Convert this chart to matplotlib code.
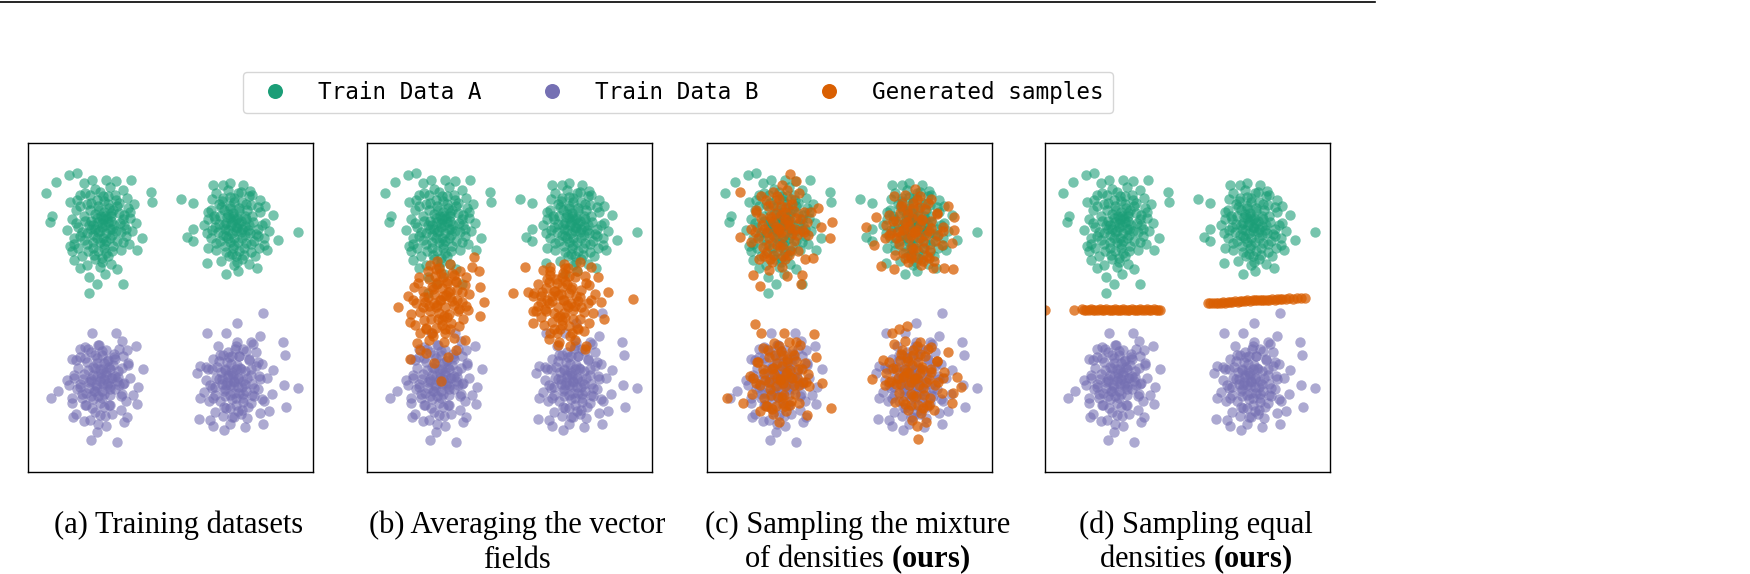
import matplotlib
matplotlib.use('Agg')
import matplotlib.pyplot as plt
from matplotlib.lines import Line2D
import numpy as np


green = '#1b9e77'
purple = '#7570b3'
orange = '#d95f02'

legend_labels = ['Train Data A', 'Train Data B', 'Generated samples']

captions = [
    ['(a) Training datasets'],
    ['(b) Averaging the vector', 'fields'],
    ['(c) Sampling the mixture', r'of densities $\mathbf{(ours)}$'],
    ['(d) Sampling equal', r'densities $\mathbf{(ours)}$'],
]

# train data A, upper left / upper right blob
train_a_left = [
    (-1.88, 1.44), (-1.72, 1.59), (-1.53, 1.68), (-1.40, 1.71), (-1.79, 1.14), (-1.82, 1.06),
    (-0.26, 1.46), (-0.24, 1.33), (-1.22, 0.14), (-1.10, 0.25), (-1.22, 0.34), (-0.79, 0.45),
    (-0.69, 0.26), (-0.97, 0.39), (-1.35, 0.46), (-0.40, 0.86), (-0.57, 1.61), (-1.35, 1.42),
    (-1.51, 1.33), (-1.56, 0.96), (-1.51, 0.75), (-1.45, 0.57),
    (-1.02, 1.05), (-0.95, 0.92), (-1.10, 1.12), (-0.88, 1.08), (-1.15, 0.90), (-0.98, 1.20),
    (-1.05, 0.80), (-0.80, 0.95), (-1.22, 1.02), (-0.92, 1.30), (-1.30, 1.15), (-0.75, 1.18),
    (-1.08, 0.68), (-0.85, 0.75), (-1.25, 0.78), (-0.68, 1.02), (-1.38, 1.00), (-1.00, 1.40),
    (-1.18, 1.32), (-0.82, 1.42), (-0.62, 1.25), (-1.42, 1.22), (-1.12, 0.58), (-0.93, 0.62),
    (-0.72, 0.70), (-1.32, 0.62), (-0.55, 0.95), (-1.45, 0.85), (-0.90, 1.52), (-1.12, 1.50),
    (-0.70, 1.48), (-1.28, 1.45), (-0.58, 1.12), (-1.48, 1.10), (-1.05, 0.95), (-0.97, 1.02),
    (-1.03, 1.15), (-0.90, 0.85), (-1.18, 1.08), (-0.84, 1.22), (-1.15, 0.72), (-0.78, 0.82),
    (-1.36, 0.88), (-0.65, 0.88), (-0.98, 0.72), (-1.20, 1.22), (-0.76, 1.32), (-1.40, 1.35),
    (-0.50, 1.05), (-0.60, 0.78), (-1.25, 0.50), (-1.05, 0.48), (-0.88, 0.52), (-1.30, 1.58),
    (-0.95, 1.62), (-0.80, 1.60), (-1.17, 1.62), (-0.52, 1.30), (-0.47, 0.70), (-1.48, 0.68),
    (-1.08, 1.28), (-0.94, 1.12), (-1.12, 0.98), (-0.86, 0.98), (-1.00, 0.86), (-1.24, 0.92),
    (-0.70, 1.10), (-0.63, 1.38), (-1.02, 0.60), (-1.38, 0.72),
    (-1.01, 1.00), (-0.93, 1.07), (-1.08, 0.93), (-0.96, 0.82), (-1.13, 1.17), (-0.87, 1.15),
    (-1.19, 0.97), (-0.83, 1.03), (-1.06, 1.22), (-0.99, 0.78), (-1.27, 1.08), (-0.73, 0.93),
    (-1.16, 0.80), (-0.91, 1.25), (-1.33, 0.93), (-0.78, 1.27), (-1.10, 1.35), (-0.95, 0.66),
    (-1.23, 0.68), (-0.68, 1.16), (-1.35, 1.27), (-0.86, 0.68), (-1.04, 1.46), (-0.74, 1.05),
    (-1.20, 1.42), (-0.64, 0.97), (-1.42, 1.05), (-0.98, 1.34), (-1.14, 0.64), (-0.80, 1.35),
    (-1.30, 0.83), (-0.90, 0.97), (-1.07, 1.06), (-0.97, 1.15), (-1.15, 1.02), (-0.86, 0.89),
    (-1.25, 1.30), (-0.70, 0.80), (-1.02, 0.54), (-0.58, 1.20), (-1.44, 0.78), (-0.92, 1.40),
    (-1.10, 0.86), (-1.00, 1.10), (-0.88, 1.18),
]
train_a_right = [
    (0.20, 1.37), (0.39, 1.31), (0.29, 0.87), (0.39, 0.82), (0.38, 0.97), (0.70, 1.55),
    (0.96, 1.57), (0.60, 0.53), (0.90, 0.39), (1.08, 0.43), (1.37, 0.47), (1.69, 0.83),
    (1.62, 1.16), (1.49, 1.27), (1.26, 1.47), (2.00, 0.94),
    (1.05, 1.00), (0.98, 0.92), (1.12, 1.08), (0.90, 1.05), (1.18, 0.90), (1.00, 1.18),
    (1.08, 0.80), (0.85, 0.90), (1.25, 1.02), (0.95, 1.28), (1.30, 1.15), (0.80, 1.15),
    (1.10, 0.68), (0.88, 0.75), (1.28, 0.78), (0.72, 1.00), (1.38, 0.98), (1.02, 1.38),
    (1.20, 1.30), (0.84, 1.38), (0.66, 1.22), (1.42, 1.20), (1.14, 0.58), (0.94, 0.62),
    (0.74, 0.70), (1.34, 0.62), (0.60, 0.92), (1.47, 0.86), (0.92, 1.48), (1.12, 1.46),
    (0.74, 1.45), (1.30, 1.42), (0.62, 1.10), (1.50, 1.05), (1.04, 0.95), (0.97, 1.03),
    (1.06, 1.12), (0.92, 0.85), (1.20, 1.10), (0.86, 1.22), (1.17, 0.72), (0.80, 0.82),
    (1.38, 0.88), (0.66, 0.85), (1.00, 0.72), (1.22, 1.22), (0.78, 1.30), (1.42, 1.35),
    (0.55, 1.03), (0.62, 0.72), (1.25, 0.52), (1.02, 0.50), (0.82, 0.55), (1.52, 0.70),
    (1.10, 1.25), (0.95, 1.12), (1.14, 0.98), (0.88, 0.98), (1.02, 0.86), (1.26, 0.92),
    (0.72, 1.10), (0.68, 1.36), (1.04, 0.62), (1.40, 0.72), (1.55, 0.95), (1.16, 1.55),
    (0.85, 1.55),
    (1.06, 0.99), (0.99, 1.06), (1.13, 0.93), (0.96, 0.80), (1.18, 1.15), (0.91, 1.13),
    (1.23, 0.96), (0.86, 1.02), (1.09, 1.21), (1.02, 0.77), (1.31, 1.06), (0.77, 0.93),
    (1.20, 0.79), (0.95, 1.25), (1.36, 0.91), (0.81, 1.26), (1.14, 1.33), (0.99, 0.65),
    (1.27, 0.67), (0.71, 1.15), (1.38, 1.26), (0.89, 0.67), (1.07, 1.44), (0.78, 1.04),
    (1.24, 1.40), (0.67, 0.96), (1.45, 1.03), (1.01, 1.33), (1.17, 0.63), (0.83, 1.34),
    (1.33, 0.82), (0.93, 0.96), (1.10, 1.05), (1.00, 1.14), (1.18, 1.01), (0.90, 0.88),
    (1.28, 1.29), (0.74, 0.79), (1.06, 0.54), (0.62, 1.19), (1.47, 0.77), (0.96, 1.39),
    (1.14, 0.85), (1.04, 1.09), (0.92, 1.17),
]

# train data B, lower left / lower right blob
train_b_left = [
    (-1.80, -1.23), (-1.69, -1.14), (-1.17, -0.39), (-0.80, -0.39), (-0.71, -0.49), (-0.49, -0.56),
    (-0.39, -0.85), (-1.56, -1.00), (-1.46, -1.48), (-1.19, -1.79), (-0.79, -1.81), (-1.10, -1.68),
    (-0.63, -0.61), (-1.35, -0.59), (-1.48, -0.72), (-0.46, -1.09), (-0.48, -1.31), (-0.63, -1.48),
    (-1.30, -1.53),
    (-1.03, -0.97), (-0.94, -1.06), (-1.16, -0.93), (-0.87, -0.98), (-1.21, -1.11), (-1.07, -1.21),
    (-0.99, -0.78), (-0.81, -1.12), (-1.31, -0.99), (-0.91, -1.33), (-1.24, -0.76), (-0.77, -0.88),
    (-1.13, -1.42), (-0.69, -1.05), (-1.40, -1.12), (-1.01, -0.62), (-0.83, -0.70), (-1.27, -1.33),
    (-0.64, -1.27), (-1.45, -0.93), (-1.18, -0.63), (-0.97, -1.47), (-0.73, -1.39), (-1.35, -0.70),
    (-0.58, -0.97), (-1.09, -1.09), (-0.96, -0.90), (-1.12, -0.84), (-0.89, -1.19), (-1.05, -1.30),
    (-1.19, -1.01), (-0.84, -0.81), (-1.33, -1.24), (-0.71, -1.18), (-1.02, -1.14), (-0.93, -0.74),
    (-1.23, -0.87), (-0.79, -1.01), (-1.15, -1.25), (-0.98, -0.99), (-1.10, -0.71), (-0.86, -1.44),
    (-1.38, -0.84), (-0.62, -0.78), (-1.48, -1.30), (-1.06, -0.54), (-0.76, -0.59), (-1.28, -0.57),
    (-1.20, -1.52), (-0.95, -1.60), (-1.08, -1.57), (-0.67, -1.55), (-1.41, -1.44), (-0.54, -1.20),
    (-1.52, -1.07), (-1.00, -1.05), (-0.90, -1.08), (-1.14, -1.14), (-1.04, -0.86), (-0.82, -0.95),
    (-1.26, -1.17), (-0.70, -0.69), (-1.36, -1.05),
    (-1.04, -1.01), (-0.96, -0.94), (-1.11, -1.07), (-0.99, -1.18), (-1.16, -0.83), (-0.90, -0.85),
    (-1.22, -1.03), (-0.86, -0.97), (-1.09, -0.78), (-1.02, -1.23), (-1.30, -0.92), (-0.76, -1.07),
    (-1.19, -1.21), (-0.94, -0.75), (-1.36, -1.09), (-0.81, -0.73), (-1.13, -0.67), (-0.98, -1.35),
    (-1.26, -1.33), (-0.71, -0.84), (-1.41, -0.74), (-0.89, -1.33), (-1.07, -0.54), (-0.77, -0.96),
    (-1.23, -0.60), (-0.67, -1.04), (-1.45, -0.97), (-1.01, -0.67), (-1.17, -1.37), (-0.83, -0.66),
    (-1.33, -1.18), (-0.93, -1.04), (-1.10, -0.95), (-1.00, -0.86), (-1.18, -0.99), (-0.89, -1.12),
    (-1.28, -0.71), (-0.73, -1.21), (-1.05, -1.46), (-0.61, -0.81), (-1.47, -1.23), (-0.95, -0.61),
    (-1.13, -1.15), (-1.03, -0.91), (-0.91, -0.83),
]
train_b_right = [
    (1.46, -0.13), (1.06, -0.26), (1.77, -0.51), (1.80, -0.67), (1.79, -1.07), (1.82, -1.35),
    (0.49, -0.82), (0.44, -0.91), (0.49, -1.23), (0.47, -1.51), (1.41, -0.43), (0.86, -1.66),
    (0.69, -1.60), (1.46, -1.57), (1.18, -1.61), (2.00, -1.10), (0.90, -0.39), (1.31, -0.53),
    (1.62, -0.87), (1.60, -1.18), (1.55, -1.40), (0.60, -0.39),
    (1.02, -1.01), (0.93, -0.94), (1.14, -1.09), (0.88, -1.12), (1.19, -0.88), (1.05, -1.24),
    (0.97, -0.79), (0.79, -0.99), (1.30, -1.05), (0.90, -1.36), (1.25, -0.74), (0.75, -0.83),
    (1.12, -1.44), (0.68, -1.11), (1.40, -0.95), (1.03, -0.60), (0.84, -0.67), (1.28, -1.30),
    (0.63, -1.28), (1.44, -0.79), (1.16, -0.59), (0.98, -1.49), (0.72, -1.42), (1.35, -0.63),
    (0.58, -1.00), (1.08, -0.97), (0.95, -1.07), (1.11, -0.84), (0.87, -1.21), (1.04, -1.33),
    (1.20, -1.14), (0.82, -0.90), (1.33, -1.21), (0.70, -0.72), (1.01, -1.17), (0.94, -0.70),
    (1.22, -0.98), (0.80, -1.27), (1.16, -1.29), (0.99, -0.91), (1.10, -0.69), (0.85, -1.47),
    (1.38, -1.12), (0.61, -0.86), (1.47, -1.28), (1.06, -0.51), (0.77, -0.55), (1.27, -0.50),
    (1.22, -1.50), (0.96, -1.58), (1.08, -1.40), (0.65, -1.52), (1.42, -1.43), (0.55, -1.16),
    (1.52, -0.98), (1.00, -1.08), (0.91, -1.02), (1.15, -1.18), (1.05, -0.86), (0.83, -1.05),
    (1.27, -0.86), (0.73, -1.20), (1.36, -0.82),
    (1.01, -1.03), (0.93, -0.96), (1.08, -1.09), (0.96, -1.20), (1.13, -0.85), (0.87, -0.87),
    (1.19, -1.05), (0.83, -0.99), (1.06, -0.80), (0.99, -1.25), (1.27, -0.94), (0.73, -1.09),
    (1.16, -1.23), (0.91, -0.77), (1.33, -1.11), (0.78, -0.75), (1.10, -0.69), (0.95, -1.37),
    (1.23, -1.35), (0.68, -0.86), (1.38, -0.76), (0.86, -1.35), (1.04, -0.56), (0.74, -0.98),
    (1.20, -0.62), (0.64, -1.06), (1.42, -0.99), (0.98, -0.69), (1.14, -1.39), (0.80, -0.68),
    (1.30, -1.20), (0.90, -1.06), (1.07, -0.97), (0.97, -0.88), (1.15, -1.01), (0.86, -1.14),
    (1.25, -0.73), (0.70, -1.23), (1.02, -1.48), (0.58, -0.83), (1.44, -1.25), (0.92, -0.63),
    (1.10, -1.17), (1.00, -0.93), (0.88, -0.85),
]

# (b) averaged vector fields: blobs half way between A and B
gen_avg_left = [
    (-1.67, -0.04), (-0.51, 0.61), (-1.08, 0.55), (-0.36, 0.02), (-1.50, -0.73), (-1.01, -1.01),
    (-0.42, -0.17), (-1.49, -0.24), (-0.54, 0.48), (-0.43, 0.42), (-0.42, 0.22), (-1.13, -0.78),
    (-1.34, -0.61), (-0.65, -0.48), (-0.78, -0.61), (-0.91, -0.70), (-1.38, -0.52), (-1.24, -0.65),
    (-1.03, 0.05), (-0.95, -0.05), (-1.12, 0.12), (-0.88, 0.08), (-1.18, -0.10), (-1.00, 0.20),
    (-1.06, -0.20), (-0.82, -0.02), (-1.26, 0.02), (-0.93, 0.30), (-1.30, 0.16), (-0.77, 0.18),
    (-1.10, -0.32), (-0.86, -0.25), (-1.28, -0.22), (-0.70, 0.02), (-1.40, 0.00), (-1.02, 0.40),
    (-1.20, 0.32), (-0.84, 0.40), (-0.65, 0.24), (-1.43, 0.22), (-1.14, -0.42), (-0.95, -0.38),
    (-0.74, -0.30), (-1.34, -0.38), (-0.60, -0.08), (-1.47, -0.14), (-0.99, 0.10), (-1.08, -0.02),
    (-0.91, 0.15), (-1.16, 0.22), (-1.04, -0.12), (-0.89, -0.14), (-1.22, 0.08), (-0.79, 0.30),
    (-1.24, -0.32), (-0.68, -0.20), (-1.36, 0.35), (-0.72, 0.42), (-1.10, 0.45), (-0.97, -0.50),
    (-1.20, -0.48), (-0.82, -0.45), (-1.52, 0.10), (-0.58, 0.12), (-1.00, -0.28), (-1.13, 0.00),
    (-0.93, -0.18), (-1.06, 0.28), (-1.30, -0.05), (-0.75, -0.10), (-1.42, -0.28), (-0.63, 0.35),
    (-1.18, 0.50), (-0.88, 0.52),
    (-1.02, 0.04), (-0.94, 0.11), (-1.09, -0.05), (-0.97, -0.16), (-1.14, 0.19), (-0.88, 0.16),
    (-1.20, -0.03), (-0.84, 0.03), (-1.07, 0.25), (-1.00, -0.22), (-1.28, 0.09), (-0.74, -0.07),
    (-1.17, -0.20), (-0.92, 0.27), (-1.34, -0.11), (-0.79, 0.28), (-1.11, 0.36), (-0.96, -0.34),
    (-1.24, -0.34), (-0.69, 0.15), (-1.37, 0.27), (-0.87, -0.33), (-1.05, 0.47), (-0.77, 0.05),
    (-1.22, 0.42), (-0.63, -0.03), (-1.45, 0.05), (-0.99, 0.35), (-1.15, -0.38), (-0.81, 0.37),
]
gen_avg_right = [
    (0.10, 0.14), (0.28, 0.48), (0.40, -0.25), (0.33, 0.15), (1.94, 0.06), (0.40, 0.10),
    (0.66, 0.48), (0.87, 0.52), (1.12, 0.54), (0.66, -0.39), (0.79, -0.54), (0.97, -0.56),
    (1.22, -0.56), (0.52, 0.10), (0.40, -0.10),
    (0.86, 0.05), (0.78, -0.04), (0.95, 0.14), (0.70, 0.10), (1.02, -0.08), (0.84, 0.22),
    (0.90, -0.18), (0.64, 0.00), (1.10, 0.03), (0.76, 0.32), (1.14, 0.18), (0.60, 0.20),
    (0.95, -0.30), (0.70, -0.24), (1.12, -0.20), (0.52, 0.02), (1.24, 0.00), (0.86, 0.40),
    (1.04, 0.34), (0.66, 0.42), (0.48, 0.26), (1.26, 0.24), (0.97, -0.42), (0.77, -0.38),
    (0.57, -0.28), (1.18, -0.36), (0.45, -0.10), (1.32, -0.12), (0.83, 0.12), (0.92, -0.02),
    (0.74, 0.16), (1.00, 0.22), (0.88, -0.12), (0.72, -0.12), (1.06, 0.10), (0.62, 0.32),
    (1.08, -0.32), (0.52, -0.18), (1.20, 0.36), (0.56, 0.44), (0.94, 0.46), (0.80, -0.50),
    (1.04, -0.48), (0.65, -0.46), (1.36, 0.12), (0.42, 0.14), (0.84, -0.28), (0.98, 0.00),
    (0.78, -0.18), (0.90, 0.30), (1.14, -0.05), (0.60, -0.10), (1.26, -0.26), (1.45, 0.02),
    (1.50, -0.20), (1.40, 0.35), (1.55, 0.15), (1.30, 0.48), (1.20, -0.60),
    (0.87, 0.04), (0.79, 0.11), (0.94, -0.05), (0.82, -0.16), (0.99, 0.19), (0.73, 0.16),
    (1.05, -0.03), (0.69, 0.03), (0.92, 0.25), (0.85, -0.22), (1.13, 0.09), (0.59, -0.07),
    (1.02, -0.20), (0.77, 0.27), (1.19, -0.11), (0.64, 0.28), (0.96, 0.36), (0.81, -0.34),
    (1.09, -0.34), (0.54, 0.15), (1.22, 0.27), (0.72, -0.33), (0.90, 0.47), (0.62, 0.05),
    (1.07, 0.42), (0.48, -0.03), (1.30, 0.05), (0.84, 0.35), (1.00, -0.38), (0.66, 0.37),
]

# (c) sampling the mixture: four blobs over the train data
gen_mix_a_left = [
    (-0.87, 1.69), (-0.78, 1.60), (-1.65, 1.46), (-1.65, 0.87), (-0.23, 1.07), (-0.26, 0.85),
    (-0.52, 0.59), (-0.65, 0.58), (-1.34, 0.23), (-1.44, 0.37), (-0.70, 0.37), (-0.71, 0.25),
    (-0.93, 0.36),
    (-1.06, 0.98), (-0.98, 0.88), (-1.14, 1.06), (-0.90, 1.02), (-1.20, 0.86), (-1.02, 1.16),
    (-1.08, 0.76), (-0.84, 0.92), (-1.28, 0.98), (-0.94, 1.26), (-1.32, 1.12), (-0.78, 1.12),
    (-1.12, 0.64), (-0.88, 0.70), (-1.30, 0.74), (-0.70, 0.96), (-1.42, 0.94), (-1.04, 1.36),
    (-1.22, 1.28), (-0.86, 1.36), (-0.66, 1.20), (-1.40, 1.22), (-1.16, 0.54), (-0.96, 0.58),
    (-0.76, 0.68), (-1.36, 0.58), (-0.60, 0.90), (-1.48, 0.80), (-0.92, 1.48), (-1.14, 1.46),
    (-0.74, 1.44), (-1.32, 1.40), (-0.62, 1.06), (-1.01, 0.93), (-1.10, 1.00), (-0.95, 1.10),
    (-1.18, 1.14), (-0.82, 0.82), (-1.25, 0.66), (-0.55, 1.20), (-1.00, 0.48), (-1.20, 0.44),
    (-0.40, 1.00), (-0.45, 1.25), (-1.00, 1.55),
    (-1.05, 0.97), (-0.97, 1.04), (-1.12, 0.88), (-1.00, 0.77), (-1.17, 1.12), (-0.91, 1.09),
    (-1.23, 0.93), (-0.87, 0.99), (-1.10, 1.18), (-1.03, 0.74), (-1.31, 1.02), (-0.77, 0.89),
    (-1.20, 0.76), (-0.95, 1.20), (-1.37, 0.85), (-0.82, 1.21), (-1.14, 1.29), (-0.99, 0.62),
    (-1.27, 0.62), (-0.72, 1.11), (-1.40, 1.20), (-0.90, 0.63), (-1.08, 1.40), (-0.80, 0.98),
    (-1.25, 1.35), (-0.66, 0.93), (-1.48, 0.98), (-1.02, 1.28), (-1.18, 0.58), (-0.84, 1.30),
]
gen_mix_a_right = [
    (1.56, 1.27), (1.65, 1.13), (1.65, 0.96), (1.61, 0.79), (1.49, 0.46), (1.63, 0.45),
    (1.33, 0.47), (0.44, 1.13), (0.30, 1.00), (0.42, 0.76), (0.52, 0.49), (0.73, 0.45),
    (1.03, 0.93), (0.95, 0.85), (1.12, 1.02), (0.88, 0.98), (1.17, 0.82), (1.00, 1.12),
    (1.06, 0.72), (0.82, 0.88), (1.26, 0.95), (0.92, 1.22), (1.30, 1.08), (0.76, 1.08),
    (1.10, 0.60), (0.86, 0.66), (1.28, 0.70), (0.68, 0.92), (1.40, 0.90), (1.02, 1.32),
    (1.20, 1.24), (0.84, 1.32), (0.64, 1.16), (1.38, 1.18), (1.14, 0.50), (0.94, 0.54),
    (0.74, 0.64), (1.34, 0.56), (0.58, 0.86), (1.46, 0.76), (0.90, 1.42), (1.12, 1.40),
    (0.72, 1.40), (1.30, 1.36), (0.60, 1.02), (0.99, 0.90), (1.08, 0.96), (0.93, 1.06),
    (1.16, 1.10), (0.80, 0.78), (1.23, 0.62), (1.48, 1.00), (1.05, 1.50), (0.98, 0.62),
    (1.04, 0.94), (0.96, 1.01), (1.11, 0.85), (0.99, 0.74), (1.16, 1.09), (0.90, 1.06),
    (1.22, 0.90), (0.86, 0.96), (1.09, 1.15), (1.02, 0.71), (1.30, 0.99), (0.76, 0.86),
    (1.19, 0.73), (0.94, 1.17), (1.36, 0.82), (0.81, 1.18), (1.13, 1.26), (0.98, 0.59),
    (1.26, 0.59), (0.71, 1.08), (1.39, 1.17), (0.89, 0.60), (1.07, 1.37), (0.79, 0.95),
    (1.24, 1.32), (0.65, 0.90), (1.47, 0.95), (1.01, 1.25), (1.17, 0.55), (0.83, 1.27),
]
gen_mix_b_left = [
    (-1.42, -0.27), (-1.32, -0.39), (-0.51, -0.40), (-1.85, -1.23), (-0.25, -1.37), (-0.48, -0.70),
    (-0.38, -1.04), (-0.62, -1.46), (-0.97, -0.39), (-0.79, -0.50),
    (-1.03, -1.00), (-0.95, -1.08), (-1.12, -0.92), (-0.88, -0.96), (-1.18, -1.12), (-1.00, -0.82),
    (-1.06, -1.22), (-0.82, -1.06), (-1.26, -1.00), (-0.92, -0.72), (-1.30, -0.86), (-0.76, -0.86),
    (-1.10, -1.34), (-0.86, -1.28), (-1.28, -1.24), (-0.68, -1.02), (-1.40, -1.04), (-1.02, -0.62),
    (-1.20, -0.70), (-0.84, -0.62), (-0.64, -0.78), (-1.38, -0.76), (-1.14, -1.44), (-0.94, -1.40),
    (-0.74, -1.30), (-1.34, -1.40), (-0.58, -1.08), (-1.46, -1.18), (-0.90, -0.50), (-1.12, -0.52),
    (-0.72, -0.54), (-1.30, -0.58), (-0.60, -0.92), (-0.99, -1.04), (-1.08, -0.98), (-0.93, -0.90),
    (-1.16, -0.86), (-0.80, -1.18), (-1.23, -1.34), (-1.50, -0.95), (-1.05, -1.55), (-0.98, -1.30),
    (-1.60, -1.30),
    (-1.02, -0.99), (-0.94, -0.92), (-1.09, -1.08), (-0.97, -1.19), (-1.14, -0.84), (-0.88, -0.87),
    (-1.20, -1.03), (-0.84, -0.97), (-1.07, -0.78), (-1.00, -1.22), (-1.28, -0.91), (-0.74, -1.06),
    (-1.17, -1.20), (-0.92, -0.76), (-1.34, -1.07), (-0.79, -0.75), (-1.11, -0.67), (-0.96, -1.34),
    (-1.24, -1.34), (-0.69, -0.85), (-1.37, -0.76), (-0.87, -1.33), (-1.05, -0.56), (-0.77, -0.98),
    (-1.22, -0.61), (-0.63, -1.03), (-1.45, -0.98), (-0.99, -0.68), (-1.15, -1.38), (-0.81, -0.67),
]
gen_mix_b_right = [
    (1.56, -0.63), (1.69, -0.96), (1.75, -1.09), (1.63, -1.17), (1.62, -1.30), (0.69, -0.38),
    (0.80, -0.33), (0.38, -0.99), (0.56, -0.74), (0.92, -0.29), (1.10, -1.77), (1.08, -1.60),
    (1.22, -1.55),
    (1.03, -0.99), (0.95, -1.07), (1.12, -0.91), (0.88, -0.95), (1.17, -1.11), (1.00, -0.81),
    (1.06, -1.21), (0.82, -1.05), (1.26, -0.99), (0.92, -0.71), (1.30, -0.85), (0.76, -0.85),
    (1.10, -1.33), (0.86, -1.27), (1.28, -1.23), (0.68, -1.01), (1.40, -1.03), (1.02, -0.61),
    (1.20, -0.69), (0.84, -0.61), (0.64, -0.77), (1.38, -0.75), (1.14, -1.43), (0.94, -1.39),
    (0.74, -1.29), (1.34, -1.39), (0.58, -1.07), (1.46, -1.17), (0.90, -0.49), (1.12, -0.51),
    (0.72, -0.53), (1.30, -0.57), (0.60, -0.91), (0.99, -1.03), (1.08, -0.97), (0.93, -0.89),
    (1.16, -0.85), (0.80, -1.17), (1.23, -1.33), (1.50, -0.90), (1.00, -1.52),
    (1.04, -0.98), (0.96, -0.91), (1.11, -1.07), (0.99, -1.18), (1.16, -0.83), (0.90, -0.86),
    (1.22, -1.02), (0.86, -0.96), (1.09, -0.77), (1.02, -1.21), (1.30, -0.90), (0.76, -1.05),
    (1.19, -1.19), (0.94, -0.75), (1.36, -1.06), (0.81, -0.74), (1.13, -0.66), (0.98, -1.33),
    (1.26, -1.33), (0.71, -0.84), (1.39, -0.75), (0.89, -1.32), (1.07, -0.55), (0.79, -0.97),
    (1.24, -0.60), (0.65, -1.02), (1.47, -0.97), (1.01, -0.67), (1.17, -1.37), (0.83, -0.66),
]

# (d) sampling equal densities: two thin lines
gen_equal_left = [
    (-2.15, -0.08), (-1.71, -0.08), (-1.59, -0.07), (-1.56, -0.08), (-1.52, -0.09), (-1.48, -0.08),
    (-1.45, -0.07), (-1.41, -0.08), (-1.38, -0.08), (-1.34, -0.09), (-1.31, -0.07), (-1.27, -0.08),
    (-1.25, -0.08), (-1.21, -0.07), (-1.17, -0.09), (-1.14, -0.08), (-1.11, -0.08), (-1.07, -0.07),
    (-1.04, -0.08), (-1.01, -0.09), (-0.98, -0.08), (-0.95, -0.07), (-0.92, -0.08), (-0.88, -0.08),
    (-0.86, -0.09), (-0.82, -0.07), (-0.79, -0.08), (-0.76, -0.08), (-0.72, -0.09), (-0.69, -0.07),
    (-0.66, -0.08), (-0.62, -0.08), (-0.59, -0.07), (-0.55, -0.09), (-0.52, -0.08), (-0.48, -0.07),
    (-0.45, -0.08), (-0.42, -0.09), (-0.39, -0.08),
]
gen_equal_right = [
    (0.35, 0.00), (0.39, 0.00), (0.43, 0.01), (0.47, 0.00), (0.51, 0.01), (0.55, 0.01),
    (0.58, 0.02), (0.62, 0.01), (0.66, 0.02), (0.70, 0.02), (0.73, 0.02), (0.77, 0.03),
    (0.81, 0.02), (0.85, 0.03), (0.88, 0.03), (0.92, 0.03), (0.96, 0.04), (1.00, 0.03),
    (1.04, 0.04), (1.07, 0.04), (1.11, 0.04), (1.15, 0.05), (1.19, 0.04), (1.22, 0.05),
    (1.26, 0.05), (1.30, 0.05), (1.34, 0.06), (1.38, 0.05), (1.42, 0.06), (1.46, 0.06),
    (1.50, 0.06), (1.55, 0.06), (1.60, 0.07), (1.66, 0.06), (1.72, 0.07), (1.78, 0.07),
    (1.84, 0.07),
]

generated = [
    [],
    gen_avg_left + gen_avg_right,
    gen_mix_a_left + gen_mix_a_right + gen_mix_b_left + gen_mix_b_right,
    gen_equal_left + gen_equal_right,
]


def scatter(ax, pts, color, alpha):
    if not pts:
        return
    arr = np.array(pts)
    ax.scatter(arr[:, 0], arr[:, 1], s=56, color=color, alpha=alpha, linewidths=0)


def main():
    plt.rcParams['mathtext.fontset'] = 'custom'
    plt.rcParams['mathtext.rm'] = 'Liberation Serif'
    plt.rcParams['mathtext.bf'] = 'Liberation Serif:bold'

    W, H = 1750, 574
    fig = plt.figure(figsize=(W / 100, H / 100), dpi=100)

    panel_left = [28, 367, 707, 1045]
    panel_w, panel_top, panel_h = 285, 143, 329

    train_a = train_a_left + train_a_right
    train_b = train_b_left + train_b_right

    for i, left in enumerate(panel_left):
        ax = fig.add_axes([left / W, (H - panel_top - panel_h) / H, panel_w / W, panel_h / H])
        scatter(ax, train_a, green, 0.6)
        scatter(ax, train_b, purple, 0.6)
        scatter(ax, generated[i], orange, 0.75)
        ax.set_xlim(-2.154, 2.231)
        ax.set_ylim(-2.203, 2.098)
        ax.set_xticks([])
        ax.set_yticks([])
        for sp in ax.spines.values():
            sp.set_linewidth(1.0)

        cx = (left + panel_w / 2 + 8) / W
        for j, line in enumerate(captions[i]):
            fig.text(cx, (H - 532.7 - 35 * j) / H, line, ha='center', va='baseline',
                     family='Liberation Serif', fontsize=22)

    handles = [Line2D([], [], marker='o', linestyle='none', markersize=10.8,
                      markeredgewidth=0, color=c) for c in (green, purple, orange)]
    fig.legend(handles, legend_labels, loc='center', ncol=3,
               bbox_to_anchor=(678 / W, 1 - 92.5 / H),
               prop={'family': 'DejaVu Sans Mono', 'size': 16.3},
               handlelength=2.04, handletextpad=0.88, columnspacing=2.1, borderpad=0.4)

    fig.add_artist(Line2D([0, 1375 / W], [1 - 1.5 / H, 1 - 1.5 / H],
                          transform=fig.transFigure, color='black', linewidth=1.2))

    fig.savefig('out.png', dpi=100)


if __name__ == '__main__':
    main()
